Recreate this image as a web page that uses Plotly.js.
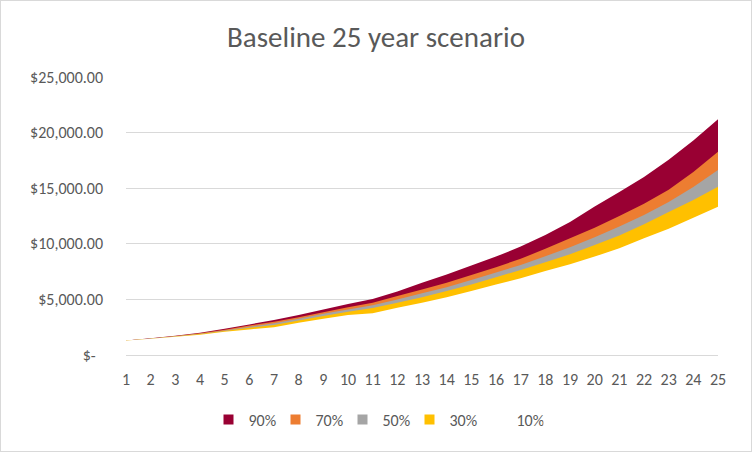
<!DOCTYPE html>
<html>
<head>
<meta charset="utf-8">
<script src="https://cdn.plot.ly/plotly-3.0.1.min.js"></script>
<style>
  html, body { margin: 0; padding: 0; background: #fff; }
  #chart { width: 750px; height: 450px; border: 1px solid #d9d9d9; }
</style>
</head>
<body>
<div id="chart"></div>
<script>
const years = [1,2,3,4,5,6,7,8,9,10,11,12,13,14,15,16,17,18,19,20,21,22,23,24,25];

const p90 = [1300,1500,1720,2000,2350,2750,3150,3600,4100,4590,5040,5700,6500,7250,8050,8850,9750,10800,11950,13350,14650,16000,17550,19300,21200];
const p70 = [1300,1490,1700,1960,2280,2650,3000,3400,3850,4300,4700,5300,5900,6500,7200,7900,8650,9550,10500,11450,12500,13600,14850,16450,18280];
const p50 = [1300,1480,1680,1920,2200,2550,2850,3250,3700,4100,4470,5000,5550,6100,6750,7420,8100,8880,9700,10600,11550,12600,13750,15100,16640];
const p30 = [1300,1470,1660,1880,2150,2450,2700,3100,3500,3900,4230,4700,5200,5750,6350,7000,7650,8350,9050,9900,10750,11750,12850,13950,15140];
const p10 = [1300,1460,1640,1830,2080,2300,2500,2900,3250,3600,3750,4250,4700,5200,5750,6350,6900,7550,8150,8850,9600,10500,11350,12350,13340];

const names = ['90%', '70%', '50%', '30%', '10%'];
const colors = ['#990033', '#ed7d31', '#a5a5a5', '#ffc000', '#ffffff'];
const series = [p90, p70, p50, p30, p10];

const yTicks = [0, 5000, 10000, 15000, 20000, 25000];
const yLabels = ['$-\u00a0\u00a0', '$5,000.00', '$10,000.00', '$15,000.00', '$20,000.00', '$25,000.00'];

let traces = [];

// overlapping areas, the white 10% one on top hides everything under it
for (let i = 0; i < series.length; i++) {
    traces.push({
        x: years,
        y: series[i],
        name: names[i],
        type: 'scatter',
        mode: 'none',
        fill: 'tozeroy',
        fillcolor: colors[i],
        showlegend: false,
        hoverinfo: 'skip'
    });
}

// legend only entries with square swatches
for (let i = 0; i < series.length; i++) {
    traces.push({
        x: [null],
        y: [null],
        name: names[i],
        type: 'scatter',
        mode: 'markers',
        marker: {symbol: 'square', size: 10, color: colors[i]},
        showlegend: true
    });
}

const font = 'Calibri, Carlito, Lato, sans-serif';

const layout = {
    width: 750,
    height: 450,
    margin: {l: 125, r: 33, t: 76, b: 96, autoexpand: false},
    paper_bgcolor: '#ffffff',
    plot_bgcolor: '#ffffff',
    font: {family: font, color: '#595959', size: 16},
    title: {
        text: 'Baseline 25 year scenario',
        font: {family: font, size: 29, color: '#595959'},
        x: 0.5,
        xanchor: 'center',
        y: 0.92,
        yanchor: 'middle'
    },
    xaxis: {
        range: [1, 25],
        tickmode: 'array',
        tickvals: years,
        tickangle: 0,
        showgrid: false,
        zeroline: false,
        showline: true,
        linecolor: '#d9d9d9',
        linewidth: 1,
        ticks: '',
        ticklabelstandoff: 10,
        automargin: false,
        fixedrange: true
    },
    yaxis: {
        range: [0, 25000],
        tickmode: 'array',
        tickvals: yTicks,
        ticktext: yLabels,
        showgrid: true,
        gridcolor: '#d9d9d9',
        gridwidth: 1,
        zeroline: false,
        ticks: '',
        ticklabelstandoff: 22,
        automargin: false,
        fixedrange: true
    },
    showlegend: true,
    legend: {
        orientation: 'h',
        xref: 'container',
        yref: 'container',
        x: 0.5,
        xanchor: 'center',
        y: 0.07,
        yanchor: 'middle',
        font: {family: font, size: 16, color: '#595959'},
        itemwidth: 30,
        entrywidth: 22,
        traceorder: 'normal'
    },
    hovermode: false
};

Plotly.newPlot('chart', traces, layout, {displayModeBar: false, staticPlot: true});
</script>
</body>
</html>
